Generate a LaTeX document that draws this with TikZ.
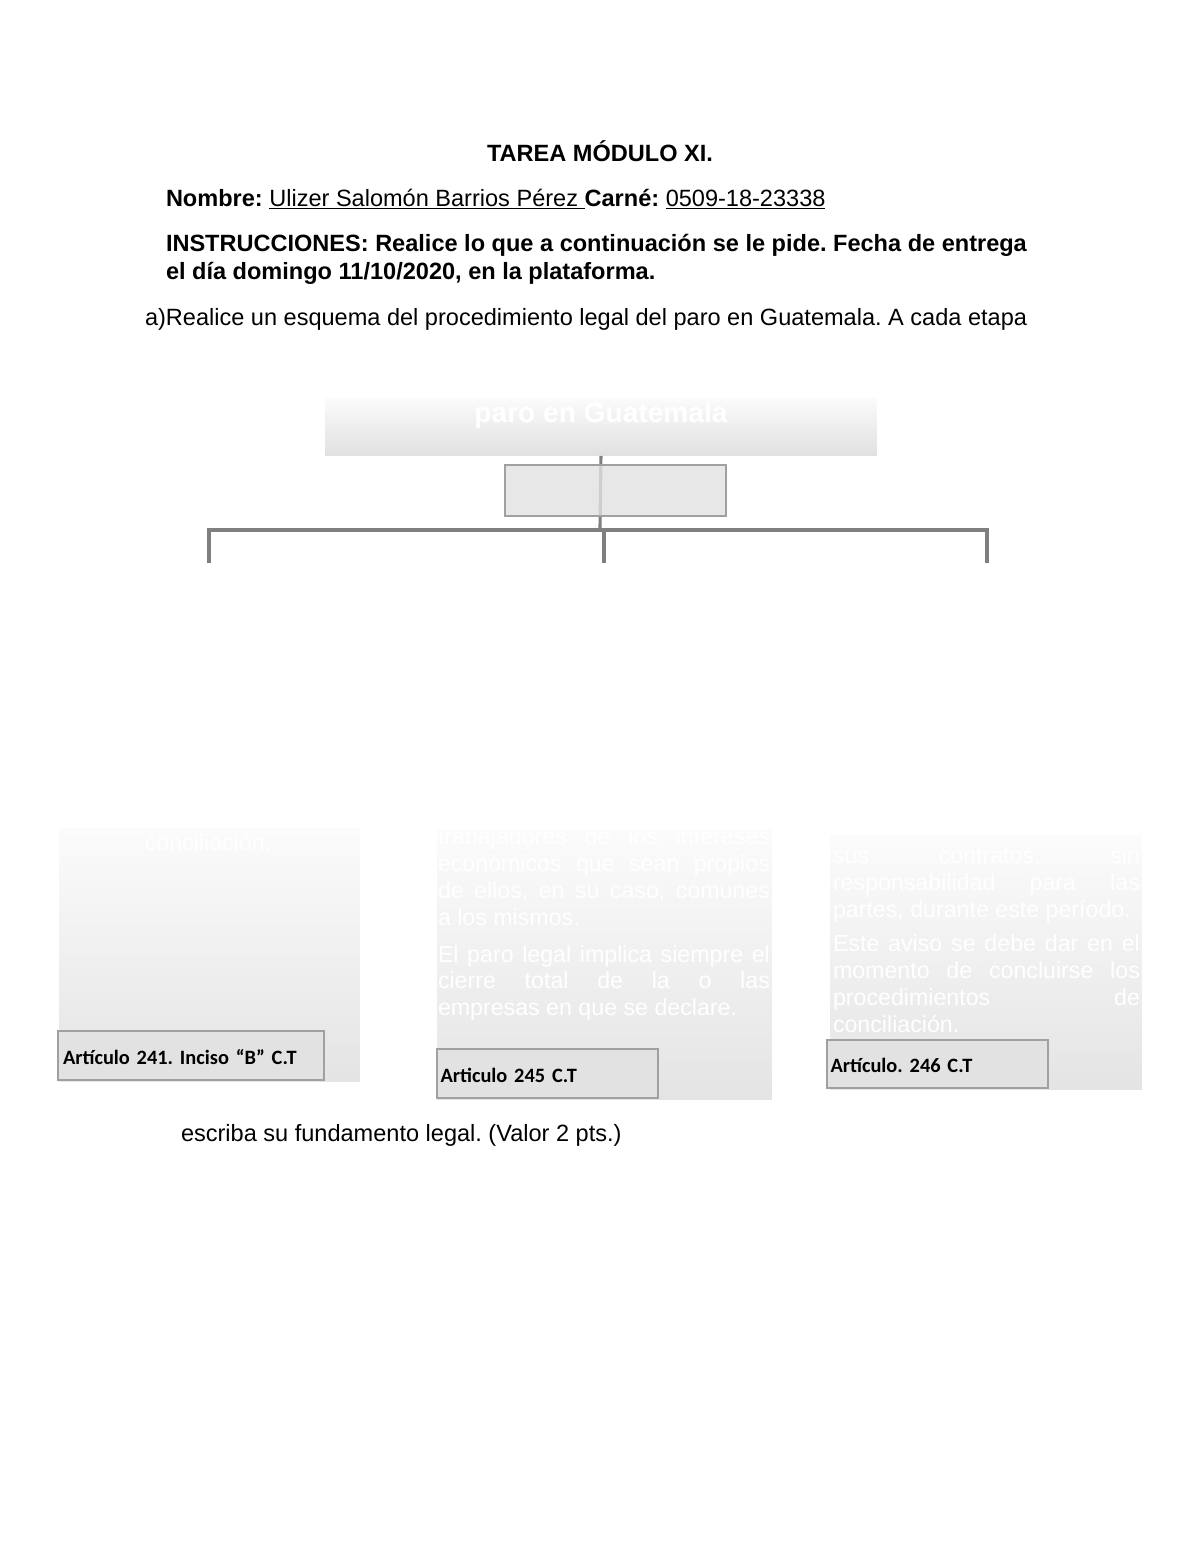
\documentclass[tikz,border=0pt]{standalone}
\usepackage{fontspec}
\setmainfont{Liberation Sans}
\newfontfamily\calfont{Carlito}
\usetikzlibrary{positioning}
\frenchspacing

\definecolor{linegray}{HTML}{7F7F7F}
\definecolor{edgegray}{HTML}{A0A0A0}
\definecolor{boxgray}{HTML}{E2E2E2}
\definecolor{shadegray}{HTML}{E4E4E4}

\newcommand{\fullline}[1]{\makebox[\hsize][s]{#1}}

\begin{document}
\begin{tikzpicture}[x=0.02cm,y=-0.02cm,
    every node/.style={inner sep=0pt, outer sep=0pt},
    txt/.style={anchor=base west, font=\fontsize{13.4pt}{15.9pt}\selectfont},
    boldtxt/.style={txt, font=\bfseries\fontsize{13.4pt}{15.9pt}\selectfont},
    gradbox/.style={anchor=north west, top color=gray!3, bottom color=shadegray, draw=none},
    artbox/.style={anchor=north west, fill=boxgray, draw=edgegray, line width=0.8pt,
      font=\calfont\bfseries\fontsize{11.6pt}{14pt}\selectfont, align=left,
      text height=10pt, text depth=0pt},
    whitetxt/.style={text=white, font=\fontsize{13.2pt}{15.3pt}\selectfont, align=justify},
    branch/.style={draw=linegray, line width=1.8pt}]
  \useasboundingbox[fill=white] (0,0) rectangle (1200,1553);

  % encabezado
  \node[boldtxt, anchor=base] (title) at (600,161) {TAREA MÓDULO XI.};
  \node[txt] (name) at (166,206) {\textbf{Nombre:} \underline{Ulizer Salomón Barrios Pérez\ }\textbf{Carné:} \underline{0509-18-23338}};
  \node[boldtxt] (instr) at (166,251) {INSTRUCCIONES: Realice lo que a continuación se le pide. Fecha de entrega};
  \node[boldtxt] (instrb) at (166,279) {el día domingo 11/10/2020, en la plataforma.};
  \node[txt] (task) at (145,325) {a)Realice un esquema del procedimiento legal del paro en Guatemala. A cada etapa};

  % esquema
  \node[gradbox, minimum width=11.04cm, minimum height=1.16cm, bottom color=gray!24] (paro) at (325,398) {};
  \node[text=white, anchor=base, font=\bfseries\fontsize{16pt}{18pt}\selectfont] (parotext) at (601,422) {paro en Guatemala};

  \coordinate (fork) at (600,530);
  \coordinate (midfork) at (604,530);
  \coordinate (lb) at (209,563);
  \coordinate (mb) at (604,563);
  \coordinate (rb) at (987,563);

  \draw[branch] (paro.south) -- (fork);
  \node[anchor=north west, minimum width=4.42cm, minimum height=1.02cm, fill=boxgray, fill opacity=0.8, draw=edgegray, line width=0.8pt] (stage) at (505,465) {};
  \draw[branch] (lb) |- (fork) -| (rb);
  \draw[branch] (midfork) -- (mb);

  % etapas
  \node[gradbox, minimum width=6.02cm, minimum height=5.08cm] (left) at (59,828) {};
  \node[whitetxt, anchor=base] (lefttext) at (208,850) {conciliación.};
  \node[artbox, minimum width=5.32cm, minimum height=0.98cm, text width=5.12cm] (art241) at (58,1031) {Artículo 241. Inciso “B” C.T};

  \node[gradbox, minimum width=6.70cm, minimum height=5.40cm] (mid) at (437,830) {};
  \node[whitetxt, anchor=north west, text width=6.64cm] (midtext) at (438,828) {%
    \fullline{trabajadores de los intereses}\\
    \fullline{económicos que sean propios}\\
    \fullline{de ellos, en su caso, comunes}\\
    a los mismos.\\[5.5pt]
    \fullline{El paro legal implica siempre el}\\
    \fullline{cierre total de la o las}\\
    empresas en que se declare.};
  \node[artbox, minimum width=4.42cm, minimum height=0.98cm, text width=4.28cm] (art245) at (437,1049) {Articulo 245 C.T};

  \node[gradbox, minimum width=6.24cm, minimum height=5.10cm] (right) at (830,835) {};
  \node[whitetxt, anchor=north west, text width=6.14cm] (righttext) at (833,847) {%
    \fullline{sus contratos, sin}\\
    \fullline{responsabilidad para las}\\
    partes, durante este período.\\[4pt]
    \fullline{Este aviso se debe dar en el}\\
    \fullline{momento de concluirse los}\\
    \fullline{procedimientos de}\\
    conciliación.};
  \node[artbox, minimum width=4.42cm, minimum height=0.96cm, text width=4.28cm] (art246) at (827,1040) {Artículo. 246 C.T};

  \node[txt] (foot) at (181,1141) {escriba su fundamento legal. (Valor 2 pts.)};
\end{tikzpicture}
\end{document}
